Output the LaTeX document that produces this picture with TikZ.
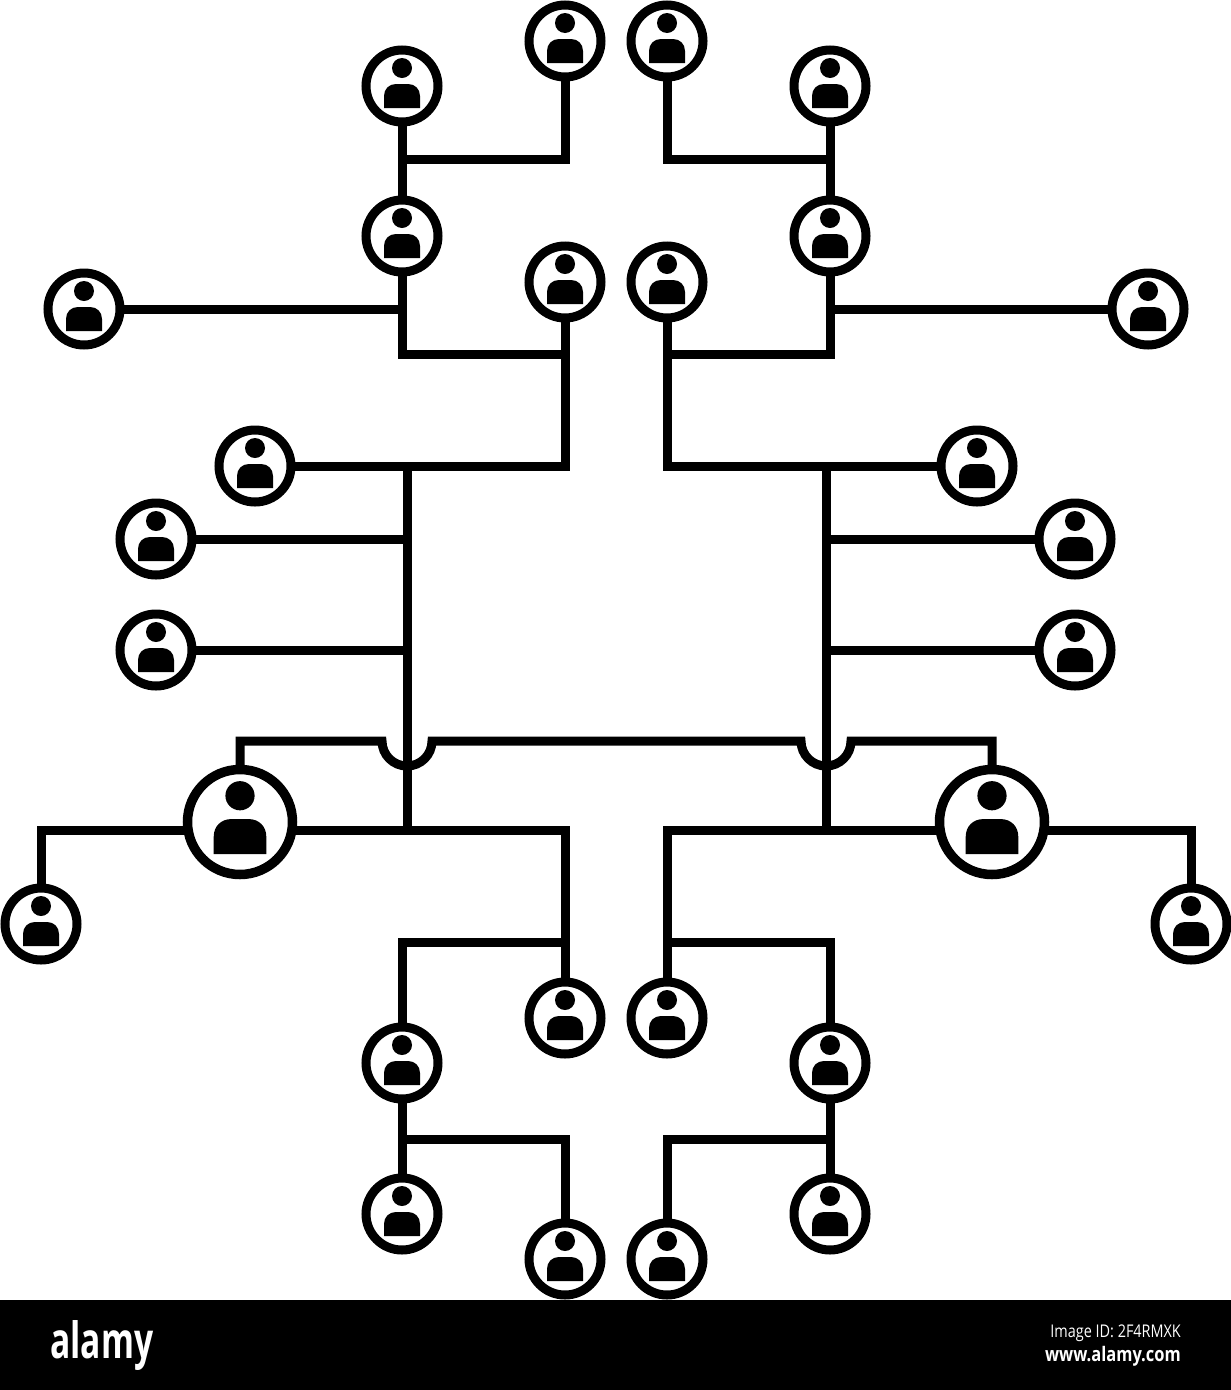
\documentclass[tikz,border=0pt]{standalone}
\usepackage{fontspec}
\setmainfont{Open Sans}
\tikzset{
  person/.style={circle,draw=black,fill=white,line width=9pt,inner sep=0pt,outer sep=0pt,minimum size=72pt},
  bigperson/.style={person,minimum size=105pt,line width=9.5pt},
  wire/.style={draw=black,line width=9pt,line join=miter,line cap=butt},
  pics/usericon/.style={code={
    \fill[black] (0,-18) circle[radius=10];
    \fill[black] (-18,22) -- (-18,10) .. controls (-18,3) and (-13,-2) .. (-6,-2) -- (6,-2) .. controls (13,-2) and (18,3) .. (18,10) -- (18,22) -- cycle;
  }}
}
\newcommand{\PersonAt}[3]{\node[person] (#1) at (#2,#3) {}; \pic at (#2,#3) {usericon};}
\newcommand{\BigPersonAt}[3]{\node[bigperson] (#1) at (#2,#3) {}; \pic[scale=1.46] at (#2,#3) {usericon};}
\begin{document}
\begin{tikzpicture}[x=1pt,y=-1pt]
\useasboundingbox (0,0) rectangle (1231,1390);
% upper left
\PersonAt{ula}{565}{41}
\PersonAt{ulb}{402}{86}
\PersonAt{ulc}{402}{236}
\PersonAt{uld}{565}{282}
\PersonAt{ule}{84}{309}
\PersonAt{mla}{255}{466}
\PersonAt{mlb}{156}{539}
\PersonAt{mlc}{156}{650}
% upper right
\PersonAt{ura}{667}{41}
\PersonAt{urb}{830}{86}
\PersonAt{urc}{830}{236}
\PersonAt{urd}{667}{282}
\PersonAt{ure}{1148}{309}
\PersonAt{mra}{977}{466}
\PersonAt{mrb}{1075}{539}
\PersonAt{mrc}{1075}{650}
% hubs
\BigPersonAt{hubl}{240}{822}
\BigPersonAt{hubr}{992}{822}
\PersonAt{fl}{41}{924}
\PersonAt{fr}{1191}{924}
% lower left
\PersonAt{lla}{565}{1018}
\PersonAt{llb}{402}{1063}
\PersonAt{llc}{402}{1214}
\PersonAt{lld}{565}{1259}
% lower right
\PersonAt{lra}{667}{1018}
\PersonAt{lrb}{830}{1063}
\PersonAt{lrc}{830}{1214}
\PersonAt{lrd}{667}{1259}
% junctions
\coordinate (j1l) at (402,159);
\coordinate (j2l) at (402,309);
\coordinate (j3l) at (402,354);
\coordinate (j1r) at (830,159);
\coordinate (j2r) at (830,309);
\coordinate (j3r) at (830,354);
\coordinate (bl0) at (407,466);
\coordinate (bl1) at (407,539);
\coordinate (bl2) at (407,650);
\coordinate (bl3) at (407,830);
\coordinate (br0) at (826,466);
\coordinate (br1) at (826,539);
\coordinate (br2) at (826,650);
\coordinate (br3) at (826,830);
\coordinate (hopl) at (382,741);
\coordinate (hopr) at (801,741);
\coordinate (j4l) at (402,942);
\coordinate (j5l) at (402,1139);
\coordinate (j4r) at (830,942);
\coordinate (j5r) at (830,1139);
% wires upper left
\draw[wire] (ulb.south) -- (ulc.north);
\draw[wire] (ula.south) |- (j1l);
\draw[wire] (ulc.south) -- (j3l) -| (uld.south);
\draw[wire] (ule.east) -- (j2l);
\draw[wire] (uld.south) |- (mla.east);
% wires upper right
\draw[wire] (urb.south) -- (urc.north);
\draw[wire] (ura.south) |- (j1r);
\draw[wire] (urc.south) -- (j3r) -| (urd.south);
\draw[wire] (ure.west) -- (j2r);
\draw[wire] (urd.south) |- (mra.west);
% buses
\draw[wire] (bl0) -- (bl3);
\draw[wire] (br0) -- (br3);
\draw[wire] (mlb.east) -- (bl1);
\draw[wire] (mlc.east) -- (bl2);
\draw[wire] (mrb.west) -- (br1);
\draw[wire] (mrc.west) -- (br2);
% hopping link between hubs
\draw[wire] (hubl.north) |- (hopl) arc[start angle=180,end angle=360,radius=25pt]
  -- (hopr) arc[start angle=180,end angle=360,radius=25pt] -| (hubr.north);
% hub outputs
\draw[wire] (hubl.-9) -| (lla.north);
\draw[wire] (hubr.189) -| (lra.north);
\draw[wire] (hubl.189) -| (fl.north);
\draw[wire] (hubr.-9) -| (fr.north);
% lower left
\draw[wire] (lla.north |- j4l) -- (j4l) -- (llb.north);
\draw[wire] (llb.south) -- (llc.north);
\draw[wire] (j5l) -| (lld.north);
% lower right
\draw[wire] (lra.north |- j4r) -- (j4r) -- (lrb.north);
\draw[wire] (lrb.south) -- (lrc.north);
\draw[wire] (j5r) -| (lrd.north);
% footer
\fill[black] (0,1300) rectangle (1231,1390);
\node[white,anchor=west,inner sep=0pt,font=\bfseries\fontsize{40}{40}\selectfont,xscale=.84,yscale=1.25] (brand) at (50,1345) {alamy};
\node[white,anchor=east,inner sep=0pt,font=\fontsize{14}{14}\selectfont,xscale=1.03,yscale=1.25] (imgid) at (1181,1333) {Image ID: 2F4RMXK};
\node[white,anchor=east,inner sep=0pt,font=\bfseries\fontsize{16}{16}\selectfont,xscale=1.03,yscale=1.25] (site) at (1181,1356) {www.alamy.com};
\end{tikzpicture}
\end{document}
